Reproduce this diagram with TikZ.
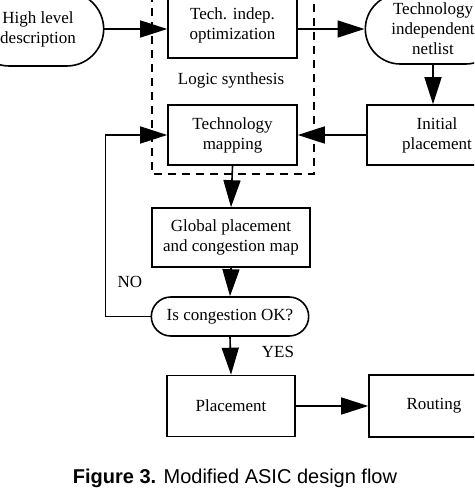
\documentclass[tikz,border=0pt]{standalone}
\usepackage{fontspec}
\setmainfont{Liberation Serif}
\newfontfamily\capfont{Liberation Sans}
\usepackage{tikz}
\usetikzlibrary{shapes.misc,arrows.meta}

\tikzset{
	flowbox/.style={draw, rectangle, line width=1.6pt, align=center, minimum height=60pt},
	roundbox/.style={draw, rounded rectangle, line width=1.6pt, align=center},
	flowarrow/.style={line width=1.6pt, -{Triangle[length=27pt,width=17pt]}},
}

\begin{document}
\begin{tikzpicture}[x=1pt,y=-1pt, font=\fontsize{17}{20}\selectfont]
	\useasboundingbox (0,0) rectangle (474,489);
	\clip (0,0) rectangle (474,489);
	
	% draw logic synthesis frame
	\draw[line width=1.6pt, dash pattern=on 8pt off 6pt] (152,-20) rectangle (314,174);
	\node (logic) at (231,80) {Logic synthesis};
	
	% draw nodes
	\node[roundbox, minimum width=138pt, minimum height=74pt] (hld) at (38,29) {High level\\description};
	\node[flowbox, minimum width=129pt, minimum height=66pt] (opt) at (232.5,25) {Tech. indep.\\optimization};
	\node[roundbox, minimum width=142pt, minimum height=70pt] (net) at (433,29) {Technology\\independent\\netlist};
	\node[flowbox, minimum width=129pt] (map) at (232.5,135) {Technology\\mapping};
	\node[flowbox, minimum width=140pt] (init) at (437,135) {Initial\\placement};
	\node[flowbox, minimum width=158pt, minimum height=59pt] (glob) at (231,237.5) {Global placement\\and congestion map};
	\node[roundbox, minimum width=164pt, minimum height=39pt] (cong) at (230,316.5) {Is congestion OK?};
	\node[flowbox, minimum width=128pt, minimum height=61pt] (place) at (231,406) {Placement};
	\node[flowbox, minimum width=130pt, minimum height=62pt] (route) at (434,406) {Routing};
	
	% draw labels
	\node (no) at (130,282) {NO};
	\node (yes) at (278,352) {YES};
	
	% draw arrows
	\draw[flowarrow] (hld.east) -- (hld.east -| opt.west);
	\draw[flowarrow] (opt.east |- net.west) -- (net.west);
	\draw[flowarrow] (net.south) -- (net.south |- init.north);
	\draw[flowarrow] (init.west) -- (map.east);
	\draw[flowarrow] (map.south) -- (glob.north);
	\draw[flowarrow] (glob.south) -- (cong.north);
	\draw[flowarrow] (cong.west) -- ++(-45,0) |- (map.west);
	\draw[flowarrow] (cong.south) -- (place.north);
	\draw[flowarrow] (place.east) -- (route.west);
	
	% caption
	\node (cap) at (235,478) {\capfont\fontsize{20}{24}\selectfont\textbf{Figure 3.} Modified ASIC design flow};
\end{tikzpicture}
\end{document}
